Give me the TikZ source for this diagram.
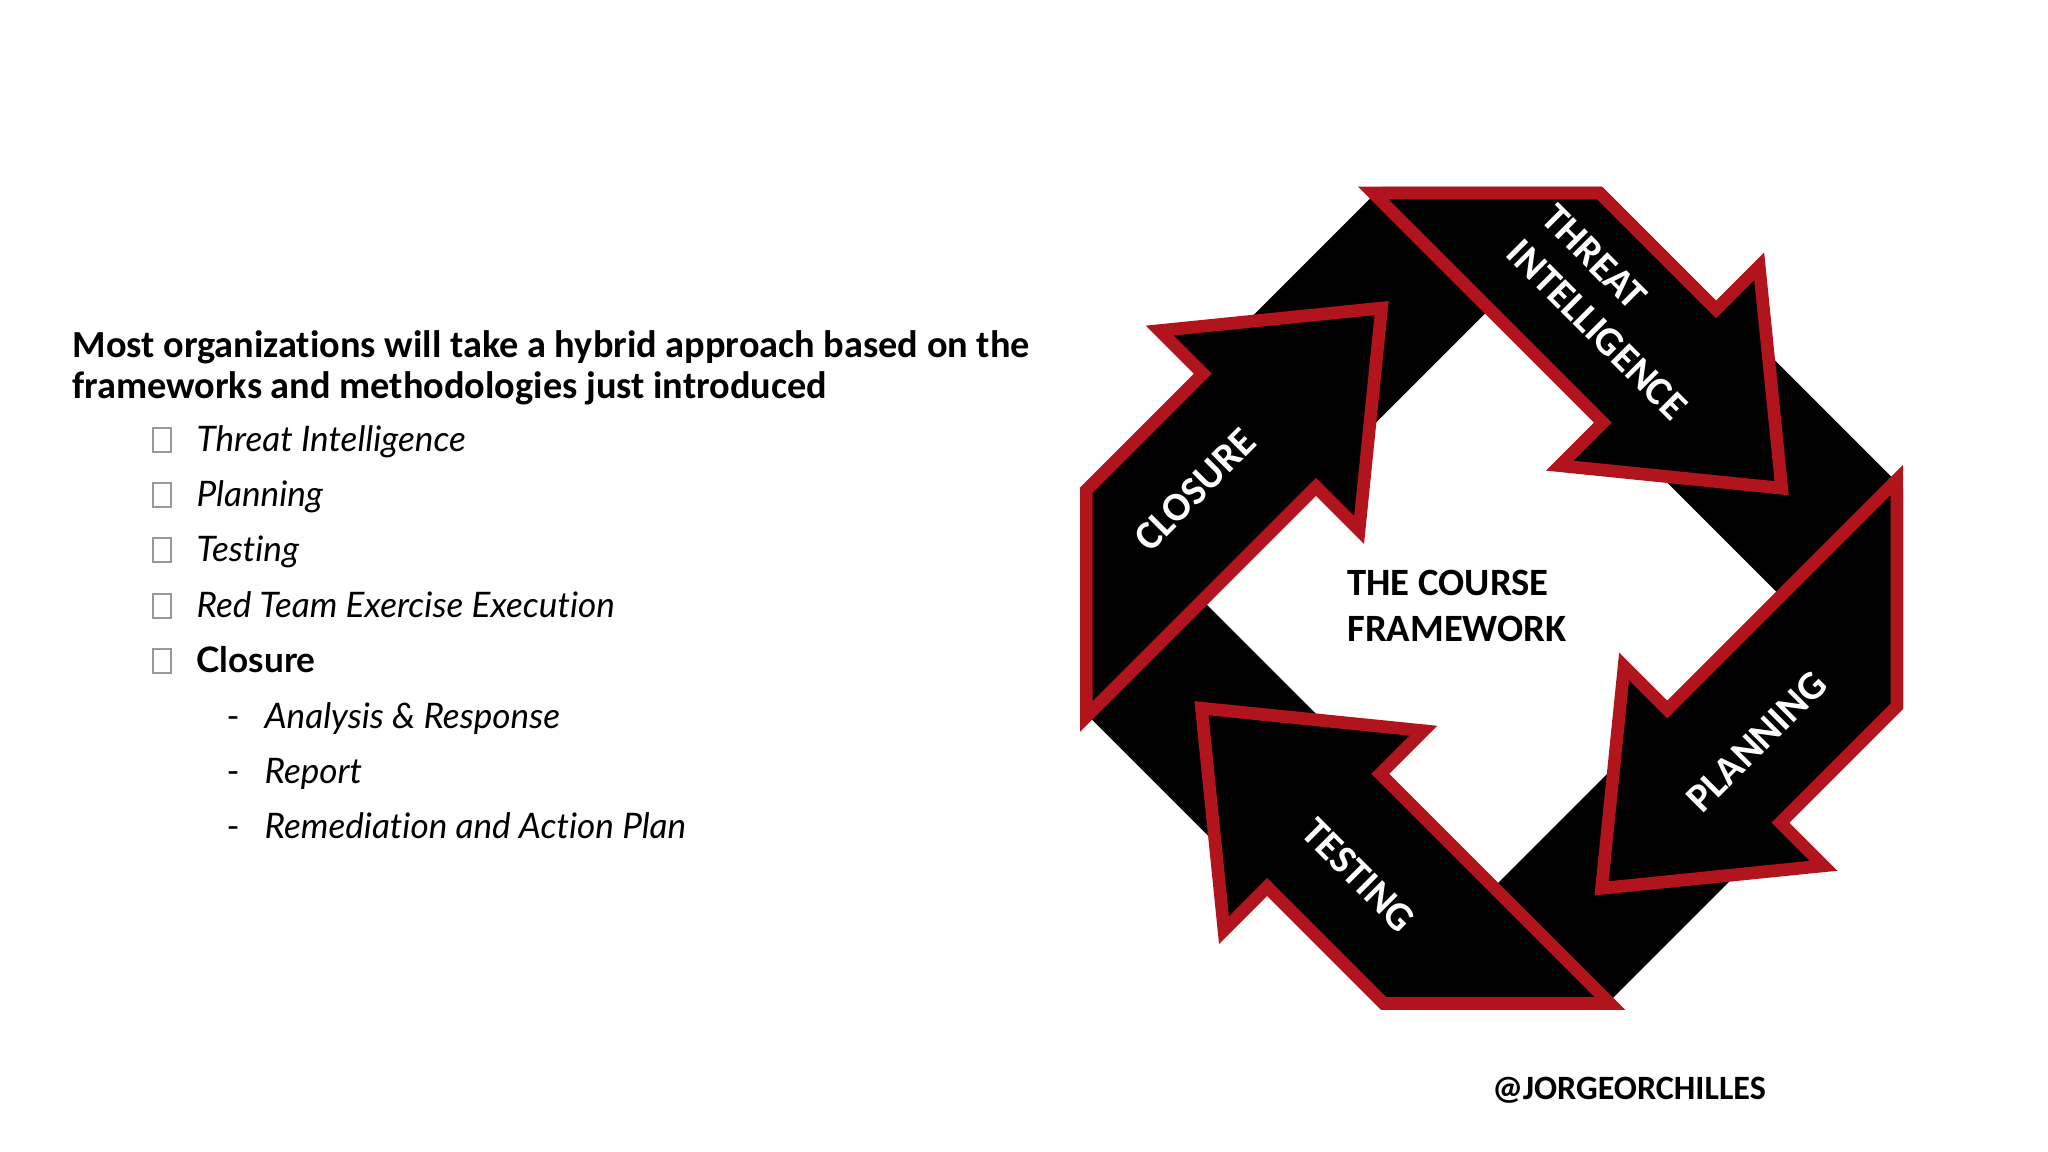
\documentclass[tikz,border=0pt]{standalone}
\usepackage{fontspec}
\setmainfont[Ligatures=NoCommon]{Carlito}
\newfontfamily\itemfont[Ligatures=NoCommon]{Lato}
\definecolor{arrowred}{RGB}{178,20,30}
\tikzset{
 ar/.style={fill=black,draw=arrowred,line width=3.6pt,line join=miter,miter limit=10},
 lb/.style={text=white,inner sep=0pt,font=\fontsize{11.5}{14}\selectfont\bfseries},
 bx/.style={rectangle,draw=gray!80,line width=0.5pt,inner sep=0pt,minimum width=5.2pt,minimum height=6.8pt},
 it/.style={anchor=base west,inner sep=0pt,font=\fontsize{10}{12}\selectfont\itemfont\itshape},
 hd/.style={anchor=base west,inner sep=0pt,font=\fontsize{10.9}{13}\selectfont\bfseries}}

\begin{document}
\begin{tikzpicture}[x=0.013061cm,y=-0.013061cm]
 \useasboundingbox[fill=white] (0,0) rectangle (1568,882);
 % heading and list
 \node[hd] (h1) at (55,274) {Most organizations will take a hybrid approach based on the};
 \node[hd] (h2) at (55,305) {frameworks and methodologies just introduced};
 \foreach \y/\t [count=\i] in {346/Threat Intelligence,388/Planning,430/Testing,473/Red Team Exercise Execution}{
  \node[bx] (b\i) at (124,\y-9) {};
  \node[it] (t\i) at (150,\y) {\t};
 }
 \node[bx] (b5) at (124,506) {};
 \node[it,font=\fontsize{10}{12}\selectfont\itemfont\bfseries] (t5) at (150,515) {Closure};
 \foreach \y/\t [count=\i] in {558/Analysis \& Response,600/Report,642/Remediation and Action Plan}{
  \node[it,font=\fontsize{10}{12}\selectfont\itemfont] (d\i) at (173,\y) {-};
  \node[it] (s\i) at (202,\y) {\t};
 }
 % ring behind the arrows
 \fill[black,even odd rule,shift={(1142,458)}] (-84,-315)--(84,-315)--(315,-84)--(315,84)
  --(84,315)--(-84,315)--(-315,84)--(-315,-84)--cycle
  (0,-223)--(223,0)--(0,223)--(-223,0)--cycle;
 % four arrows, one per quarter turn
 \foreach \r in {0,-90,-180,-270}
  \draw[ar,shift={(1142,458)},rotate=\r,scale=0.985] (-92,-315)--(84,-315)--(174.5,-224.5)--(208,-258)
   --(225.5,-85.5)--(53,-103)--(86.5,-136.5)--cycle;
 \node[lb,rotate=-45,align=left] (ti) at (1236,239) {THREAT\\INTELLIGENCE};
 \node[lb,rotate=45] (pl) at (1345,568) {PLANNING};
 \node[lb,rotate=-45] (te) at (1040,670) {TESTING};
 \node[lb,rotate=45] (cl) at (915,375) {CLOSURE};
 \node[anchor=west,align=left,inner sep=0pt,font=\fontsize{11}{13}\selectfont\bfseries] (ctr) at (1031,464)
  {THE COURSE\\FRAMEWORK};
 \node[hd,font=\fontsize{9.7}{12}\selectfont\bfseries] (tag) at (1142,842) {@JORGEORCHILLES};
\end{tikzpicture}
\end{document}
